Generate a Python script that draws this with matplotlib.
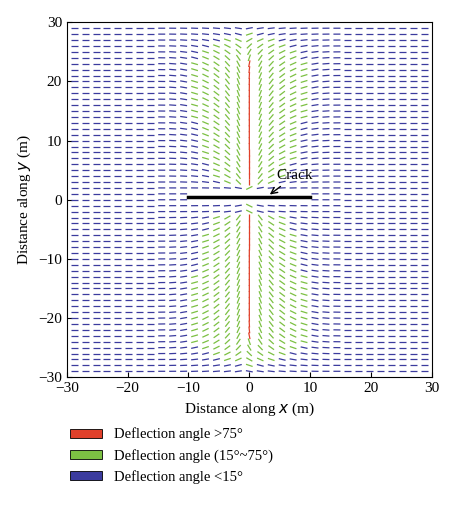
import matplotlib
matplotlib.use("Agg")
import matplotlib.pyplot as plt
import numpy as np
from matplotlib.collections import LineCollection
from matplotlib.patches import Patch

plt.rcParams['font.family'] = ['Liberation Serif', 'DejaVu Serif']

# grid of sample points (m)
xs = np.arange(-16, 17) * 1.8
ys = np.arange(-29, 29.5, 1.0)
crack_x = [-10, 10]
crack_y = [0.5, 0.5]
zone_halfwidth = 15.5   # extent of the deflected region in x
zone_halfheight = 26.0  # extent in y
seg_len = 1.15
colors = {'red': '#e0402a', 'green': '#7cc043', 'blue': '#3b3b9e'}
legend_labels = ['Deflection angle >75°', 'Deflection angle (15°~75°)', 'Deflection angle <15°']

segs, cols = [], []
for x in xs:
    for y in ys:
        if abs(y - 0.5) < 0.6 and abs(x) < 10:
            continue
        rad = np.arctan2(abs(y - 0.5), x)  # radial direction toward crack centre
        w = max(0.0, 1 - abs(x) / zone_halfwidth) ** 1.5
        w *= 1 / (1 + np.exp((abs(y) - zone_halfheight) / 1.5))
        if abs(y) < 2.5:
            w *= 0.3
        base = 0.0 if x >= 0 else np.pi
        ang = base + w * (rad - base)
        dev = np.degrees(abs(np.arctan(np.tan(ang))))
        if y < 0.5:
            ang = -ang
        dx, dy = 0.5 * seg_len * np.cos(ang), 0.5 * seg_len * np.sin(ang)
        segs.append([(x - dx, y - dy), (x + dx, y + dy)])
        cols.append(colors['red'] if dev > 75 else colors['green'] if dev > 15 else colors['blue'])

fig = plt.figure(figsize=(4.74, 5.07), dpi=100)
ax = fig.add_axes([0.141, 0.256, 0.770, 0.700])
ax.add_collection(LineCollection(segs, colors=cols, linewidths=0.9))
ax.plot(crack_x, crack_y, color='black', lw=2.5)
ax.annotate('Crack', xy=(3, 0.6), xytext=(4.5, 3.5), fontsize=11,
            arrowprops=dict(arrowstyle='->', color='black', lw=1))
ax.set_xlim(-30, 30)
ax.set_ylim(-30, 30)
ax.set_xticks(range(-30, 31, 10))
ax.set_yticks(range(-30, 31, 10))
ax.tick_params(labelsize=11, direction='in')
ax.set_xlabel('Distance along $x$ (m)', fontsize=11)
ax.set_ylabel('Distance along $y$ (m)', fontsize=11)

handles = [Patch(facecolor=colors[k], edgecolor='black', lw=0.6) for k in ['red', 'green', 'blue']]
fig.legend(handles, legend_labels, loc='lower left', bbox_to_anchor=(0.12, 0.02),
           frameon=False, fontsize=10.5, handlelength=2.2, handleheight=0.6, labelspacing=0.5)

fig.savefig('out.png', dpi=100)
